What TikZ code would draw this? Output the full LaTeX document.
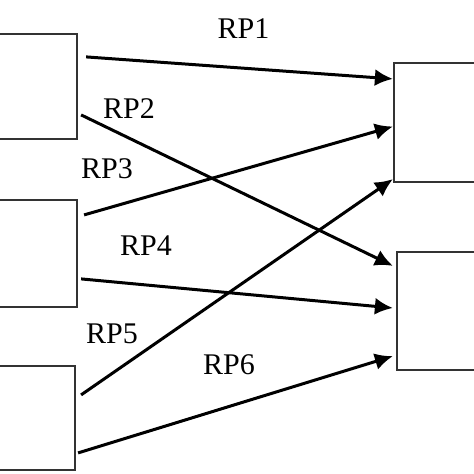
\documentclass[tikz,border=0pt]{standalone}
\usepackage{fontspec}
\setmainfont{Liberation Serif}
\usetikzlibrary{arrows.meta,positioning,calc}

\begin{document}
\begin{tikzpicture}[x=1pt,y=-1pt,
    box/.style={draw=black!80,line width=2.2pt,minimum width=100pt,inner sep=0pt},
    link/.style={draw,line width=3pt,-{Latex[length=18pt,width=17pt]}},
    lbl/.style={font=\fontsize{30}{34}\selectfont,inner sep=0pt}]
                \useasboundingbox (0,0) rectangle (474,474);
                \clip (0,0) rectangle (474,474);
                % sources on the left
                \node[box,minimum height=105pt] (src1) at (27,86.5) {};
                \node[box,minimum height=107pt] (src2) at (27,253.5) {};
                \node[box,minimum height=104pt] (src3) at (25,418) {};
                % targets on the right
                \node[box,minimum height=119pt] (dst1) at (444,122.5) {};
                \node[box,minimum height=118pt] (dst2) at (447,311) {};
                % free starts of the paths
                \coordinate (s1) at ($(src1.north east)+(8,24)$);
                \coordinate (s2) at ($(src1.north east)+(3,82)$);
                \coordinate (s3) at ($(src2.north east)+(6,16)$);
                \coordinate (s4) at ($(src2.north east)+(3,80)$);
                \coordinate (s5) at ($(src3.north east)+(5,30)$);
                \coordinate (s6) at ($(src3.north east)+(2,88)$);
                \draw[link] (s1) -- ($(dst1.north west)+(0,17)$);
                \draw[link] (s2) -- ($(dst2.north west)+(-3,15)$);
                \draw[link] (s3) -- ($(dst1.west)+(0,4)$);
                \draw[link] (s4) -- ($(dst2.west)+(-3,-3)$);
                \draw[link] (s5) -- ($(dst1.south west)+(0,-4)$);
                \draw[link] (s6) -- ($(dst2.south west)+(-3,-15)$);
                % path labels
                \node[lbl] (rp1) at (243.5,29) {RP1};
                \node[lbl] (rp2) at (129,109) {RP2};
                \node[lbl] (rp3) at (107,169) {RP3};
                \node[lbl] (rp4) at (146,246) {RP4};
                \node[lbl] (rp5) at (112,333.5) {RP5};
                \node[lbl] (rp6) at (229,364.5) {RP6};
            \end{tikzpicture}
\end{document}
